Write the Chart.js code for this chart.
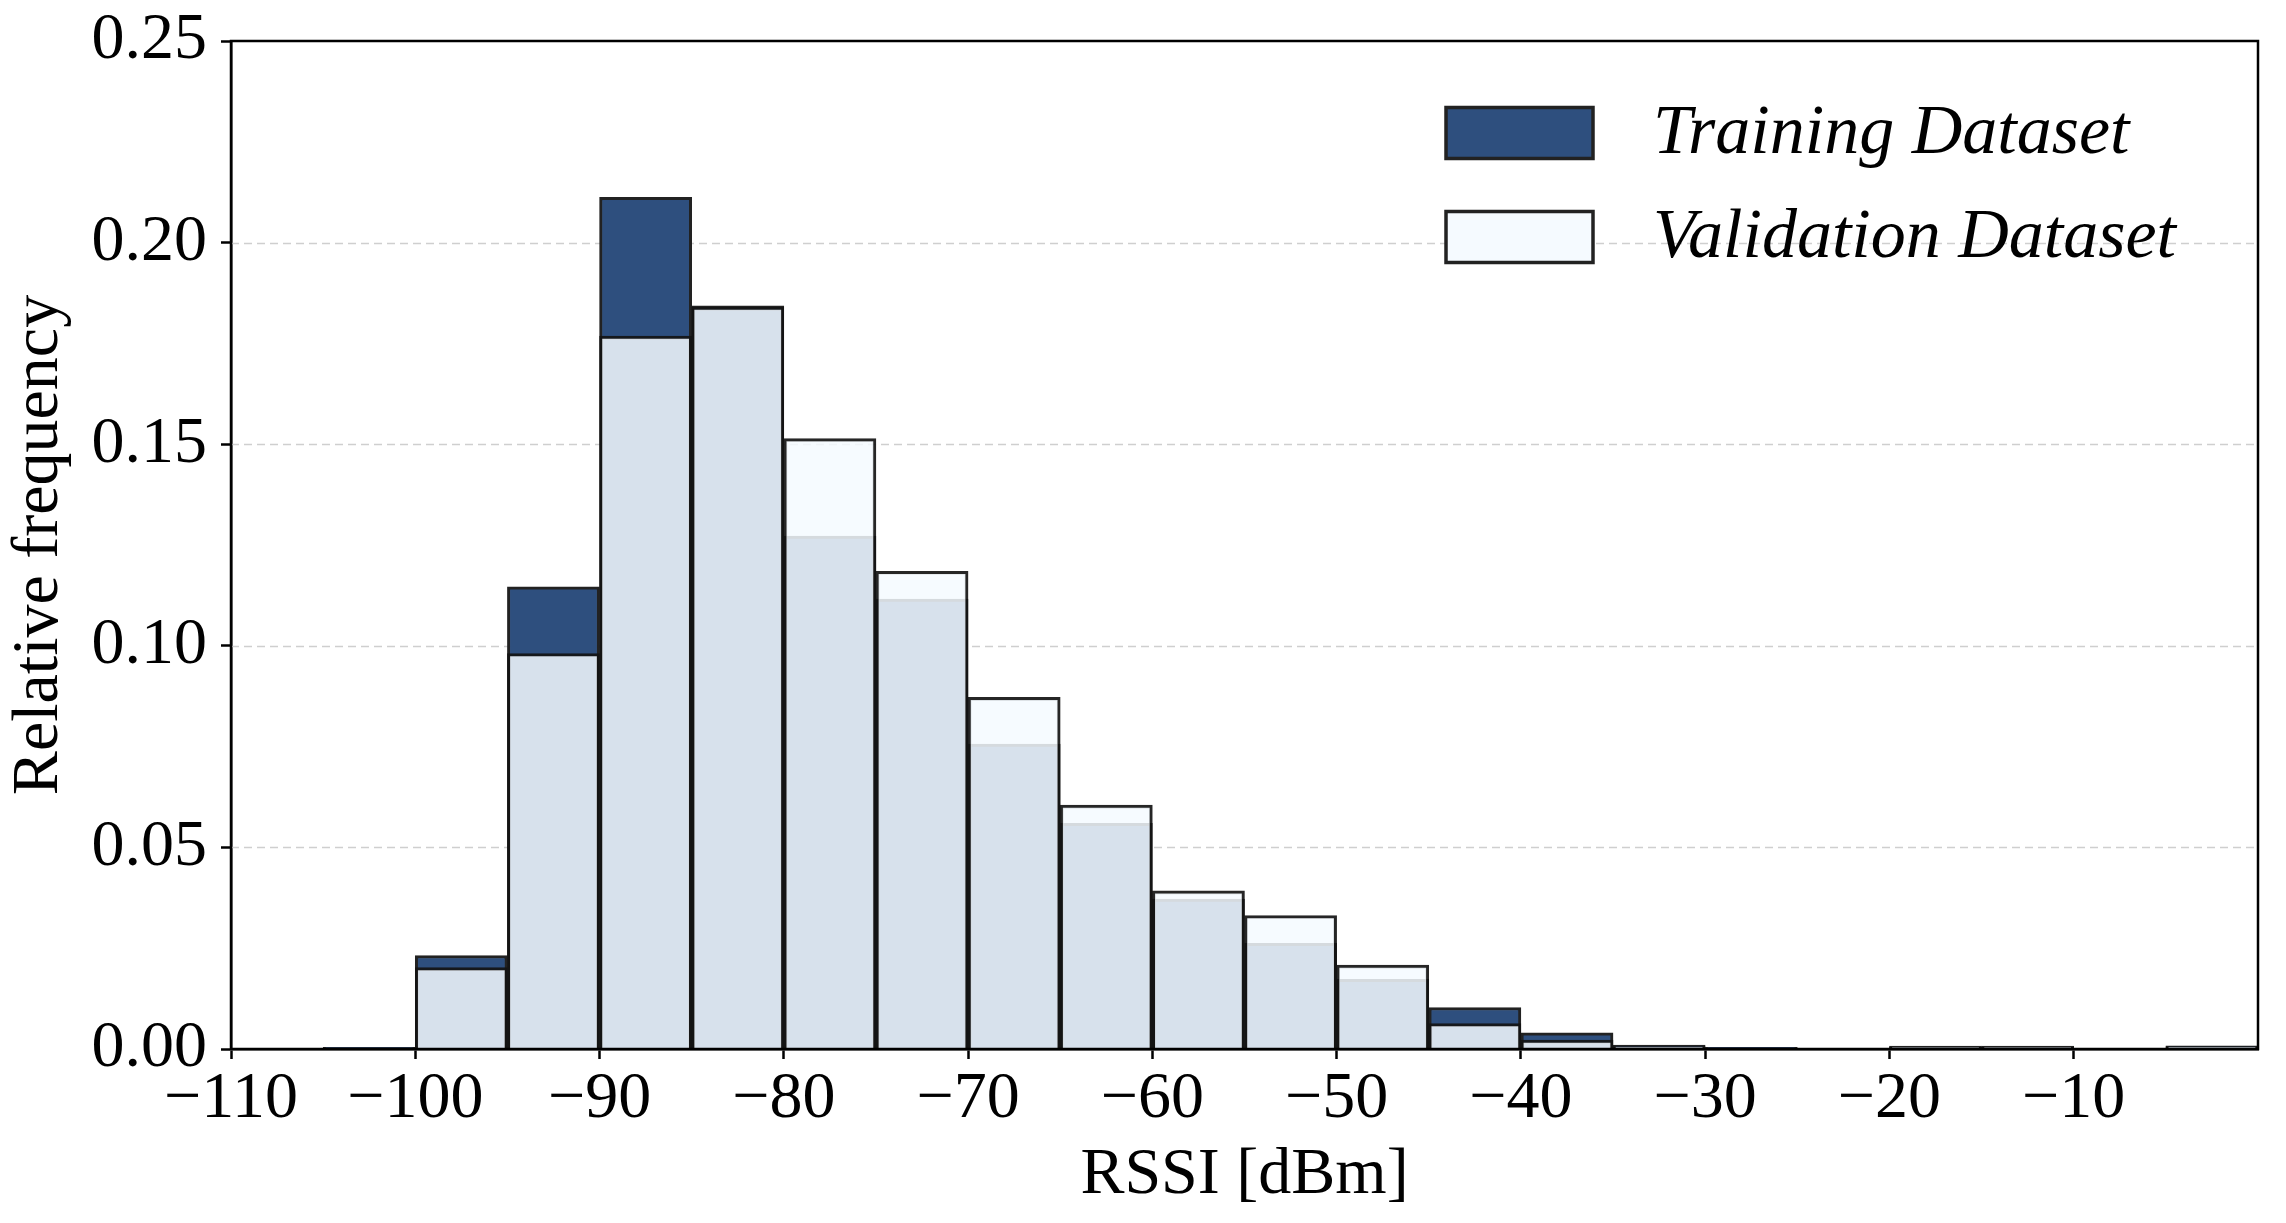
<!DOCTYPE html>
<html>
<head>
<meta charset="utf-8">
<script src="https://cdn.jsdelivr.net/npm/chart.js@4.4.1/dist/chart.umd.min.js"></script>
<style>
  html, body { margin: 0; padding: 0; background: #fff; }
  #wrap { width: 2286px; height: 1223px; position: relative; }
</style>
</head>
<body>
<div id="wrap"><canvas id="histChart"></canvas></div>
<script>
// bin left edges, 5 dBm wide
var binStarts = [-105, -100, -95, -90, -85, -80, -75, -70, -65, -60, -55, -50, -45, -40, -35, -30, -25, -20, -15, -10, -5];
var trainingFreq = [0.0004, 0.0232, 0.1146, 0.2112, 0.1843, 0.1272, 0.1116, 0.0756, 0.0560, 0.0372, 0.0262, 0.0173, 0.0103, 0.0040, 0.0010, 0.0004, 0, 0.0007, 0.0007, 0, 0.0008];
var validationFreq = [0, 0.0202, 0.0981, 0.1768, 0.1840, 0.1514, 0.1185, 0.0872, 0.0605, 0.0392, 0.0331, 0.0208, 0.0063, 0.0022, 0.0006, 0.0002, 0, 0.0004, 0.0004, 0, 0.0006];
var xTicks = [-110, -100, -90, -80, -70, -60, -50, -40, -30, -20, -10];
var yTicks = [0, 0.05, 0.10, 0.15, 0.20, 0.25];
var gridValues = [0.05, 0.10, 0.15, 0.20];
var seriesNames = ['Training Dataset', 'Validation Dataset'];

var BIN = 5;
var FONT = '"Liberation Serif", "Times New Roman", serif';

function toPoints(vals) {
  return binStarts.map(function(s, i) { return { x: s + BIN / 2, y: vals[i] }; });
}

// dashed horizontal grid + full frame
var framePlugin = {
  id: 'frame',
  beforeDatasetsDraw: function(chart) {
    var ctx = chart.ctx, a = chart.chartArea, y = chart.scales.y;
    ctx.save();
    ctx.strokeStyle = '#cfcfcf';
    ctx.lineWidth = 1.5;
    ctx.setLineDash([8, 5]);
    gridValues.forEach(function(v) {
      var py = Math.round(y.getPixelForValue(v)) + 0.5;
      ctx.beginPath(); ctx.moveTo(a.left, py); ctx.lineTo(a.right, py); ctx.stroke();
    });
    ctx.restore();
  },
  afterDatasetsDraw: function(chart) {
    var ctx = chart.ctx, a = chart.chartArea;
    ctx.save();
    ctx.strokeStyle = '#000';
    ctx.lineWidth = 2.5;
    ctx.strokeRect(a.left, a.top, a.right - a.left, a.bottom - a.top);
    ctx.restore();
  }
};

// legend drawn inside the plot, top right
var insideLegend = {
  id: 'insideLegend',
  afterDraw: function(chart) {
    var ctx = chart.ctx, a = chart.chartArea;
    var bx = a.right - 812, bw = 147, bh = 51;
    var rows = [a.top + 92, a.top + 196];
    ctx.save();
    chart.data.datasets.forEach(function(ds, i) {
      var cy = rows[i];
      ctx.fillStyle = ds.legendFill;
      ctx.fillRect(bx, cy - bh / 2, bw, bh);
      ctx.strokeStyle = '#222';
      ctx.lineWidth = 3.5;
      ctx.strokeRect(bx, cy - bh / 2, bw, bh);
      ctx.fillStyle = '#000';
      ctx.font = 'italic 70px ' + FONT;
      ctx.textBaseline = 'middle';
      ctx.textAlign = 'left';
      ctx.fillText(ds.label, bx + bw + 60, cy + 2);
    });
    ctx.restore();
  }
};

new Chart(document.getElementById('histChart'), {
  type: 'bar',
  data: {
    datasets: [{
      label: seriesNames[0],
      data: toPoints(trainingFreq),
      backgroundColor: '#2e4f7e',
      legendFill: '#2e4f7e',
      borderColor: '#222222',
      borderWidth: 3,
      order: 2
    }, {
      label: seriesNames[1],
      data: toPoints(validationFreq),
      backgroundColor: 'rgba(245,250,255,0.85)',
      legendFill: '#f5faff',
      borderColor: 'rgba(20,20,20,0.92)',
      borderWidth: 3,
      order: 1
    }]
  },
  options: {
    responsive: true,
    maintainAspectRatio: false,
    animation: false,
    grouped: false,
    barPercentage: 1,
    categoryPercentage: 1,
    layout: { padding: { top: 41, right: 28, left: 0, bottom: 0 } },
    plugins: {
      legend: { display: false },
      tooltip: { enabled: false }
    },
    scales: {
      x: {
        type: 'linear',
        min: -110,
        max: 0,
        offset: false,
        afterBuildTicks: function(scale) {
          scale.ticks = xTicks.map(function(v) { return { value: v }; });
        },
        afterFit: function(scale) { scale.height = 174; },
        grid: { display: true, offset: false, drawOnChartArea: false, drawTicks: true, tickLength: 10, tickColor: '#000', tickWidth: 2.5 },
        border: { display: true, color: '#000', width: 2.5 },
        ticks: {
          color: '#000',
          font: { family: FONT, size: 66, lineHeight: 1 },
          padding: 8,
          maxRotation: 0,
          autoSkip: false,
          callback: function(v) { return v < 0 ? '\u2212' + Math.abs(v) : String(v); }
        },
        title: {
          display: true,
          text: 'RSSI [dBm]',
          color: '#000',
          font: { family: FONT, size: 66 },
          padding: { top: 0, bottom: 8 }
        }
      },
      y: {
        min: 0,
        max: 0.25,
        afterBuildTicks: function(scale) {
          scale.ticks = yTicks.map(function(v) { return { value: v }; });
        },
        afterFit: function(scale) {
          scale.width = 231;
          scale.paddingTop = 0;
          scale.paddingBottom = 0;
        },
        grid: { display: true, drawOnChartArea: false, drawTicks: true, tickLength: 10, tickColor: '#000', tickWidth: 2.5 },
        border: { display: true, color: '#000', width: 2.5 },
        ticks: {
          color: '#000',
          font: { family: FONT, size: 66, lineHeight: 1 },
          padding: 14,
          callback: function(v) { return v.toFixed(2); }
        },
        title: {
          display: true,
          text: 'Relative frequency',
          color: '#000',
          font: { family: FONT, size: 66 },
          padding: { top: 0, bottom: 0 }
        }
      }
    }
  },
  plugins: [framePlugin, insideLegend]
});
</script>
</body>
</html>
